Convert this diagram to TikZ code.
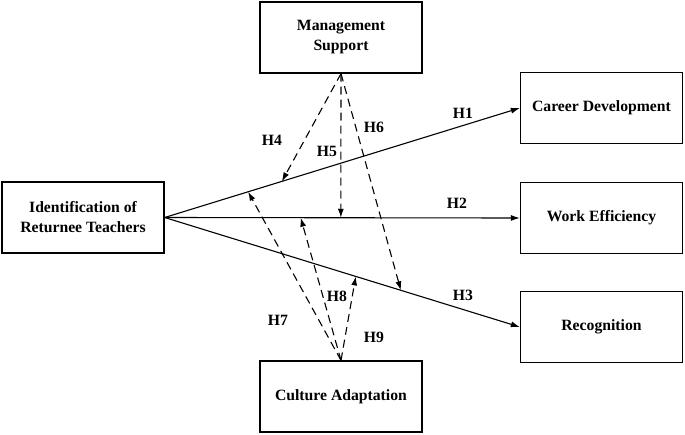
\documentclass[tikz,border=0pt]{standalone}
\usepackage{fontspec}
\setmainfont{Liberation Serif}
\usetikzlibrary{arrows.meta,positioning}

\begin{document}
\begin{tikzpicture}[x=1pt, y=-1pt,
    box/.style={draw, line width=1.3pt, minimum width=162pt, minimum height=71pt, align=center, font=\fontsize{15.7}{20}\selectfont\bfseries, inner sep=0pt},
    arr/.style={-{Latex[length=9pt,width=6pt]}, line width=1.1pt},
    darr/.style={arr, dash pattern=on 8pt off 5pt},
    lbl/.style={font=\fontsize{15.7}{18}\selectfont\bfseries, inner sep=0pt}
]
\useasboundingbox (0,0) rectangle (685,434);
\node[box] (ident) at (83,217.5) {Identification of\\Returnee Teachers};
\node[box] (mgmt) at (341,37.5) {Management\\Support};
\node[box] (cult) at (341,396.5) {Culture Adaptation};
\node[box] (career) at (601.5,108) {Career Development};
\node[box] (work) at (601.5,218) {Work Efficiency};
\node[box] (recog) at (601.5,327) {Recognition};

\draw[arr] (ident.east) -- (career.west) coordinate[pos=0.33] (onH1a) coordinate[pos=0.235] (onH1b);
\draw[arr] (ident.east) -- (work.west) coordinate[pos=0.496] (onH2a) coordinate[pos=0.383] (onH2b);
\draw[arr] (ident.east) -- (recog.west) coordinate[pos=0.665] (onH3a) coordinate[pos=0.538] (onH3b);

\draw[darr] (mgmt.south) -- (onH1a);
\draw[darr] (mgmt.south) -- (onH2a);
\draw[darr] (mgmt.south) -- (onH3a);
\draw[darr] (cult.north) -- (onH1b);
\draw[darr] (cult.north) -- (onH2b);
\draw[darr] (cult.north) -- (onH3b);

\node[lbl] (h1) at (463,113) {H1};
\node[lbl] (h2) at (457,203) {H2};
\node[lbl] (h3) at (463,295) {H3};
\node[lbl] (h4) at (272,140) {H4};
\node[lbl] (h5) at (327,151) {H5};
\node[lbl] (h6) at (374,127) {H6};
\node[lbl] (h7) at (278,320) {H7};
\node[lbl] (h8) at (337,296) {H8};
\node[lbl] (h9) at (374,337) {H9};
\end{tikzpicture}
\end{document}
